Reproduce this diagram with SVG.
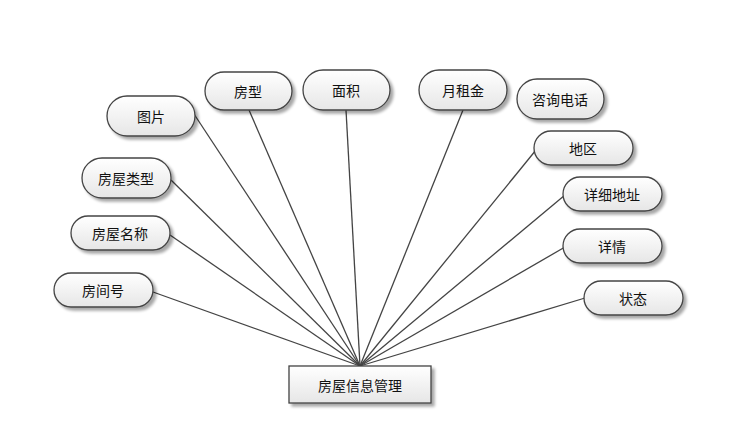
<svg xmlns="http://www.w3.org/2000/svg" width="729" height="444" viewBox="0 0 729 444">
<defs>
<linearGradient id="g" x1="0" y1="0" x2="0" y2="1"><stop offset="0" stop-color="#ffffff"/><stop offset="1" stop-color="#e6e6e6"/></linearGradient>
<filter id="sh" x="-20%" y="-20%" width="150%" height="160%"><feGaussianBlur in="SourceAlpha" stdDeviation="1.5"/><feOffset dx="3" dy="3"/><feComponentTransfer><feFuncA type="linear" slope="0.35"/></feComponentTransfer><feMerge><feMergeNode/><feMergeNode in="SourceGraphic"/></feMerge></filter>
</defs>
<style>
.n{fill:url(#g);stroke:#444;stroke-width:1.3;filter:url(#sh)}
.t{font-family:"Noto Sans CJK SC","Liberation Sans",sans-serif;font-size:14px;fill:#111;text-anchor:middle;dominant-baseline:central}
.c line{stroke:#444;stroke-width:1.3}
</style>
<rect width="729" height="444" fill="#fff"/>
<g class="c">
<line x1="194" y1="114" x2="360" y2="366"/>
<line x1="249" y1="110" x2="360" y2="366"/>
<line x1="346" y1="110" x2="360" y2="366"/>
<line x1="463" y1="110" x2="360" y2="366"/>
<line x1="536" y1="150" x2="360" y2="366"/>
<line x1="565" y1="195" x2="360" y2="366"/>
<line x1="565" y1="247" x2="360" y2="366"/>
<line x1="585" y1="298" x2="360" y2="366"/>
<line x1="171" y1="180" x2="360" y2="366"/>
<line x1="170" y1="235" x2="360" y2="366"/>
<line x1="153" y1="292" x2="360" y2="366"/>
</g>
<g id="n1"><rect class="n" x="107" y="96" width="88" height="40" rx="20"/><text class="t" x="151" y="116">图片</text></g>
<g id="n2"><rect class="n" x="205" y="72" width="87" height="38" rx="19"/><text class="t" x="248" y="91">房型</text></g>
<g id="n3"><rect class="n" x="303" y="70" width="87" height="40" rx="20"/><text class="t" x="346" y="90">面积</text></g>
<g id="n4"><rect class="n" x="419" y="70" width="88" height="40" rx="20"/><text class="t" x="463" y="90">月租金</text></g>
<g id="n5"><rect class="n" x="517" y="79" width="87" height="40" rx="20"/><text class="t" x="560" y="99">咨询电话</text></g>
<g id="n6"><rect class="n" x="534" y="131" width="99" height="34" rx="17"/><text class="t" x="583" y="148">地区</text></g>
<g id="n7"><rect class="n" x="563" y="177" width="99" height="34" rx="17"/><text class="t" x="612" y="194">详细地址</text></g>
<g id="n8"><rect class="n" x="563" y="229" width="99" height="34" rx="17"/><text class="t" x="612" y="246">详情</text></g>
<g id="n9"><rect class="n" x="584" y="281" width="99" height="34" rx="17"/><text class="t" x="633" y="298">状态</text></g>
<g id="n10"><rect class="n" x="82" y="158" width="89" height="40" rx="20"/><text class="t" x="126" y="178">房屋类型</text></g>
<g id="n11"><rect class="n" x="71" y="216" width="99" height="34" rx="17"/><text class="t" x="120" y="233">房屋名称</text></g>
<g id="n12"><rect class="n" x="54" y="273" width="99" height="34" rx="17"/><text class="t" x="103" y="290">房间号</text></g>
<g id="main"><rect class="n" x="289" y="366" width="142" height="37"/><text class="t" x="360" y="385">房屋信息管理</text></g>
</svg>
